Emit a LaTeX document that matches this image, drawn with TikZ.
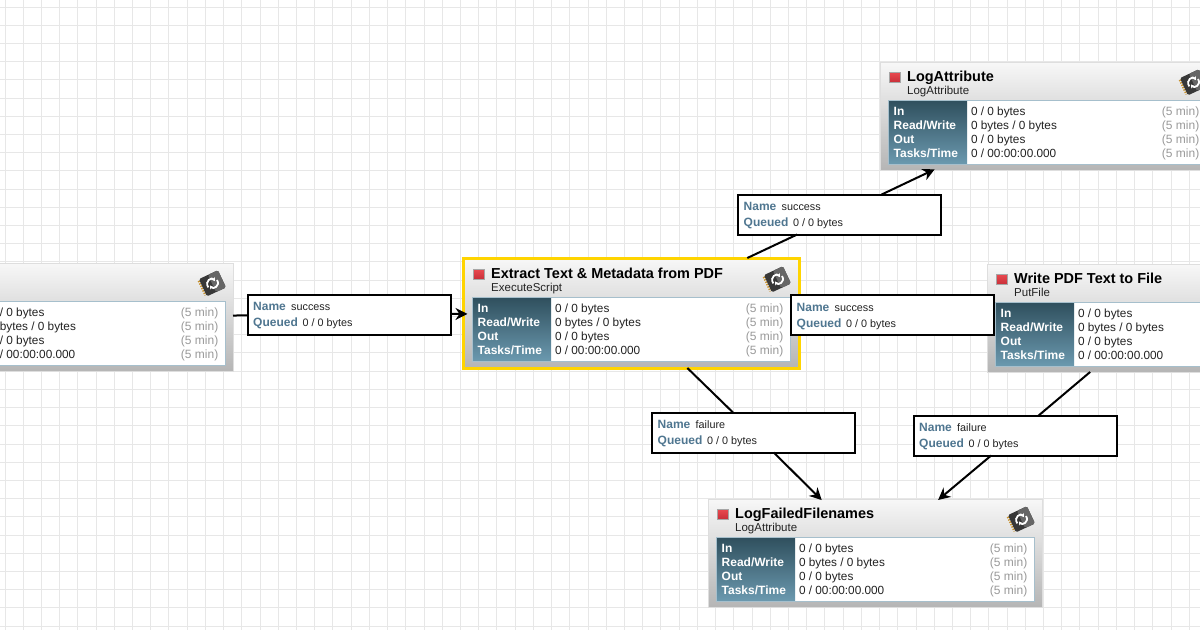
\documentclass[tikz,border=0pt]{standalone}
\usepackage{fontspec}
\setmainfont{Liberation Sans}
\usepackage{xcolor}
\usepackage{tikz}
\usetikzlibrary{arrows.meta, shadows}

\definecolor{gridline}{HTML}{E7E7E7}
\definecolor{tablehead}{HTML}{2F4F5D}
\definecolor{tablefoot}{HTML}{6B99AF}
\definecolor{tableline}{HTML}{A6BFCC}
\definecolor{labelblue}{HTML}{4F7690}
\definecolor{runtext}{HTML}{222222}
\definecolor{spantext}{HTML}{9A9A9A}
\definecolor{picked}{HTML}{FFD400}
\definecolor{stoptop}{HTML}{EA4A50}
\definecolor{stopfoot}{HTML}{C9303A}
\definecolor{chipteeth}{HTML}{C8922E}

\tikzset{
  procshape/.style  = {rectangle, draw=black!13, line width=1pt, outer sep=0pt,
                       top color=white!97!black, bottom color=black!29,
                       minimum width=334pt, minimum height=108pt, inner sep=0pt},
  procpicked/.style = {draw=picked, line width=3pt,
                       minimum width=336pt, minimum height=110pt},
  titletext/.style  = {anchor=mid west, inner sep=0pt, text=black,
                       font=\bfseries\fontsize{14.45}{14}\selectfont},
  typetext/.style   = {anchor=mid west, inner sep=0pt, text=runtext,
                       font=\fontsize{11.5}{12}\selectfont},
  headtext/.style   = {anchor=mid west, inner sep=0pt, text=white,
                       font=\bfseries\fontsize{12}{12}\selectfont},
  valtext/.style    = {anchor=mid west, inner sep=0pt, text=runtext,
                       font=\fontsize{11.8}{12}\selectfont},
  spanlabel/.style  = {anchor=mid east, inner sep=0pt, text=spantext,
                       font=\fontsize{12}{12}\selectfont},
  connbox/.style    = {rectangle, draw=black, line width=2pt, fill=white, outer sep=0pt,
                       minimum width=203pt, minimum height=40pt, inner sep=0pt,
                       drop shadow={shadow xshift=1pt, shadow yshift=-1pt,
                                    fill=black!25, opacity=1}},
  connkey/.style    = {anchor=mid west, inner sep=0pt, text=labelblue,
                       font=\bfseries\fontsize{12}{12}\selectfont},
  connval/.style    = {anchor=mid west, inner sep=0pt, text=runtext,
                       font=\fontsize{10.8}{12}\selectfont},
  conn/.style       = {draw=black, line width=2pt},
  connto/.style     = {conn, -{Stealth[length=12pt, width=12pt]}, shorten >=-1.5pt},
}

% one processor: [style] name, centre, title, type
\newcommand*{\procbox}[5][]{%
  \node [procshape, #1] (#2) at (#3) {};
  \begin{scope}[shift={(#2.center)}, xshift=-167pt, yshift=54pt]
    % stop mark
    \draw [black!35, top color=stoptop, bottom color=stopfoot, line width=0.6pt]
      (9.5,10) rectangle (20,20);
    \ifx\relax#4\relax\else
      \node [titletext] (#2-title) at (27,16.5) {#4};
      \node [typetext] (#2-type) at (27,30.3) {#5};
    \fi
    % chip icon
    \begin{scope}[shift={(313,20.5)}, rotate=25]
      \draw [chipteeth, line width=3pt, dash pattern=on 1.3pt off 1.3pt]
        (-10.5,-8) -- (-10.5,8);
      \fill [black!78, rounded corners=1.5pt] (-10,-9.5) rectangle (11,9.5);
      \fill [black!60, rounded corners=1.5pt] (0,-9.5) rectangle (11,9.5);
      \draw [white, line width=1.8pt, -{Stealth[length=3.5pt, width=4.5pt]}]
        (-5,2) .. controls (-6,-6) and (3,-6) .. (3.5,-1);
      \draw [white, line width=1.8pt, -{Stealth[length=3.5pt, width=4.5pt]}]
        (6,-1) .. controls (7,6) and (-2,6) .. (-2.5,1);
    \end{scope}
    % stats table
    \fill [white] (8,38) rectangle (326,102);
    \shade [top color=tablehead, bottom color=tablefoot] (8,38) rectangle (87,102);
    \draw [tableline, line width=1pt] (8,38) rectangle (326,102);
    \foreach \rowname/\rowy/\rowhead/\rowval in {%
      in/51/In/{0 / 0 bytes},
      io/65/{Read/Write}/{0 bytes / 0 bytes},
      out/78.5/Out/{0 / 0 bytes},
      tasks/92.5/{Tasks/Time}/{0 / 00:00:00.000}} {
      \ifx\relax#4\relax\else
        \node [headtext] (#2-\rowname-head) at (13.5,\rowy) {\rowhead};
      \fi
      \node [valtext] (#2-\rowname-val) at (90.8,\rowy) {\rowval};
      \node [spanlabel] (#2-\rowname-span) at (319.5,\rowy) {(5 min)};
    }
  \end{scope}
}

% one connection label: name, centre, relationship
\newcommand*{\connlabel}[3]{%
  \node [connbox] (#1) at (#2) {};
  \begin{scope}[shift={(#1.north west)}]
    \node [connkey] (#1-name) at (5.5,13.7) {Name};
    \node [connval] (#1-rel) at (43.5,13.7) {#3};
    \node [connkey] (#1-queued) at (5.5,29.5) {Queued};
    \node [connval] (#1-count) at (55,29.5) {0 / 0 bytes};
  \end{scope}
}

\begin{document}
\begin{tikzpicture}[x=1pt, y=-1pt]
  \clip (0,0) rectangle (1200,630);
  \fill [white] (0,0) rectangle (1200,630);
  % canvas grid
  \foreach \n in {0,...,65}
    \draw [gridline, line width=1pt] ({5+\n*18.22},0) -- ({5+\n*18.22},630);
  \foreach \n in {0,...,34}
    \draw [gridline, line width=1pt] (0,{7+\n*18.21}) -- (1200,{7+\n*18.21});

  \procbox{srcProc}{66,317}{}{}
  \procbox[procpicked]{extractProc}{631,313}{Extract Text \& Metadata from PDF}{ExecuteScript}
  \procbox{logProc}{1047,116}{LogAttribute}{LogAttribute}
  \procbox{putProc}{1154,318}{Write PDF Text to File}{PutFile}
  \procbox{failProc}{875,553}{LogFailedFilenames}{LogAttribute}

  \connlabel{srcOk}{349,314.5}{success}
  \connlabel{logOk}{839.5,214.5}{success}
  \connlabel{putOk}{892.5,315}{success}
  \connlabel{extractFail}{753.5,432.5}{failure}
  \connlabel{putFail}{1015,435.5}{failure}

  \draw [conn] (srcProc) -- (srcOk);
  \draw [connto, shorten >=-4.5pt] (srcOk) -- (extractProc);
  \draw [conn] (extractProc) -- (logOk);
  \draw [connto] (logOk) -- (logProc);
  \draw [conn] (extractProc) -- (extractFail);
  \draw [connto] (extractFail) -- (failProc);
  \draw [conn] (putProc) -- (putFail);
  \draw [connto] (putFail) -- (failProc);
\end{tikzpicture}
\end{document}
